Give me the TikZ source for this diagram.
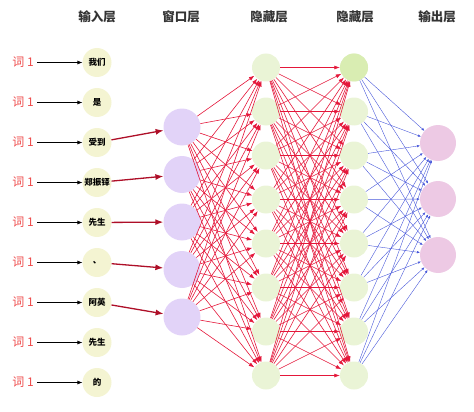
\documentclass[tikz,border=0pt]{standalone}
\usepackage{fontspec}
\setmainfont{Noto Sans CJK SC}
\usetikzlibrary{arrows.meta}
\definecolor{inpfill}{HTML}{F4F4D2}
\definecolor{winfill}{HTML}{E2D3F8}
\definecolor{hidfill}{HTML}{EAF4D6}
\definecolor{hidtop}{HTML}{D9EDB2}
\definecolor{outfill}{HTML}{EDC9E4}
\definecolor{wordred}{HTML}{EE4A4A}
\definecolor{linkred}{HTML}{E4173A}
\definecolor{darkred}{HTML}{AE0F28}
\definecolor{linkblue}{HTML}{4858DA}
\tikzset{
  title/.style={font=\fontsize{12.5}{14}\selectfont\bfseries, text=black!80},
  wordlbl/.style={font=\fontsize{12}{14}\selectfont, text=wordred},
  inp/.style={circle, fill=inpfill, minimum size=29pt, inner sep=0pt, font=\fontsize{8.5}{10}\selectfont\bfseries},
  win/.style={circle, fill=winfill, minimum size=37pt, inner sep=0pt},
  hid/.style={circle, fill=hidfill, minimum size=28pt, inner sep=0pt},
  outp/.style={circle, fill=outfill, minimum size=36pt, inner sep=0pt},
  inarrow/.style={-{Latex[length=5pt,width=4pt]}, thin, black},
  feed/.style={-{Latex[length=8pt,width=6pt]}, line width=1.3pt, darkred},
  redlink/.style={-{Latex[length=5.5pt,width=4pt]}, line width=0.6pt, linkred},
  bluelink/.style={-{Latex[length=3pt,width=2.5pt]}, line width=0.4pt, linkblue}
}
\begin{document}
\begin{tikzpicture}[x=1pt,y=-1pt]
  \useasboundingbox (0,0) rectangle (474,412);
  % layer titles
  \node [title] (tin) at (97,17) {输入层};
  \node [title] (twin) at (181,17) {窗口层};
  \node [title] (thid) at (269,17) {隐藏层};
  \node [title] (thidb) at (355,17) {隐藏层};
  \node [title] (tout) at (437,17) {输出层};
  % input words
  \foreach \w [count=\i] in {我们,是,受到,郑振铎,先生,、,阿英,先生,的} {
    \node [wordlbl] (w\i) at (23,{22.5+40*\i}) {词 1};
    \node [inp] (in\i) at (97,{22.5+40*\i}) {\w};
    \draw [inarrow] (w\i) -- (in\i);
  }
  % window layer
  \foreach \i in {1,...,5}
    \node [win] (win\i) at (182,{127+47.5*(\i-1)}) {};
  \foreach \i/\j in {3/1,4/2,5/3,6/4,7/5}
    \draw [feed] (in\i) -- (win\j);
  % hidden layers
  \foreach \i in {1,...,8} {
    \node [hid] (ha\i) at (266,{67.5+44*(\i-1)}) {};
    \node [hid] (hb\i) at (354,{67.5+44*(\i-1)}) {};
  }
  \node [hid, fill=hidtop] at (hb1) {};
  % output layer
  \foreach \i in {1,2,3}
    \node [outp] (out\i) at (438,{143+56*(\i-1)}) {};
  % links
  \foreach \i in {1,...,5}
    \foreach \j in {1,...,8}
      \draw [redlink] (win\i) -- (ha\j);
  \foreach \i in {1,...,8}
    \foreach \j in {1,...,8}
      \draw [redlink] (ha\i) -- (hb\j);
  \foreach \i in {1,...,8}
    \foreach \j in {1,2,3}
      \draw [bluelink] (hb\i) -- (out\j);
\end{tikzpicture}
\end{document}
